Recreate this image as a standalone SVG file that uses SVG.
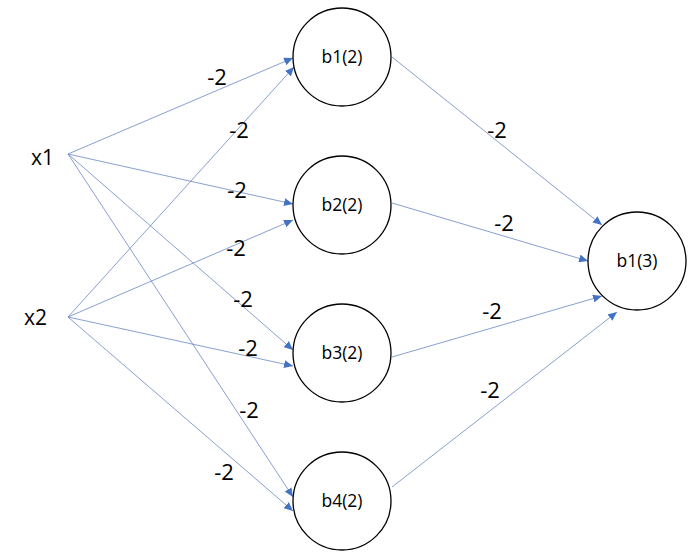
<svg xmlns="http://www.w3.org/2000/svg" width="700" height="558" viewBox="0 0 700 558">
<style>
.node{fill:#fff;stroke:#000;stroke-width:1.3}
.nl{font-family:"Open Sans","Noto Sans",sans-serif;font-size:17.5px;fill:#000;text-anchor:middle}
.il{font-family:"Open Sans","Noto Sans",sans-serif;font-size:21px;fill:#000}
.w{font-family:"Open Sans","Noto Sans",sans-serif;font-size:22px;fill:#000;text-anchor:middle}
.e{stroke:#6A88C4;stroke-width:0.8;fill:none;marker-end:url(#ah)}
</style>
<defs>
<marker id="ah" markerUnits="userSpaceOnUse" markerWidth="10" markerHeight="8" refX="9" refY="4" orient="auto">
<path d="M0,0 L9,4 L0,8 Z" fill="#4472C4"/>
</marker>
</defs>
<rect width="700" height="558" fill="#fff"/>
<g id="connectors">
<line class="e" x1="68" y1="154" x2="293" y2="58"/>
<line class="e" x1="68" y1="317" x2="294" y2="67"/>
<line class="e" x1="68" y1="154" x2="293" y2="204"/>
<line class="e" x1="68" y1="317" x2="293" y2="220"/>
<line class="e" x1="68" y1="154" x2="293" y2="350"/>
<line class="e" x1="68" y1="317" x2="293" y2="366"/>
<line class="e" x1="68" y1="154" x2="293" y2="497"/>
<line class="e" x1="68" y1="317" x2="293" y2="511"/>
<line class="e" x1="392" y1="57" x2="602" y2="225"/>
<line class="e" x1="392" y1="203" x2="588" y2="261"/>
<line class="e" x1="392" y1="357" x2="602" y2="296"/>
<line class="e" x1="392" y1="487" x2="617" y2="312"/>
</g>
<g id="weights">
<text class="w" x="217" y="85">-2</text>
<text class="w" x="239" y="138">-2</text>
<text class="w" x="237" y="198">-2</text>
<text class="w" x="236" y="256">-2</text>
<text class="w" x="243" y="307">-2</text>
<text class="w" x="248" y="356">-2</text>
<text class="w" x="249" y="418">-2</text>
<text class="w" x="224" y="480">-2</text>
<text class="w" x="497" y="138">-2</text>
<text class="w" x="504" y="231">-2</text>
<text class="w" x="492" y="319">-2</text>
<text class="w" x="490" y="398">-2</text>
</g>
<g id="x1"><text class="il" x="31" y="165">x1</text></g>
<g id="x2"><text class="il" x="24" y="325">x2</text></g>
<g id="b1_2"><circle class="node" cx="342" cy="57" r="49"/><text class="nl" x="342" y="63">b1(2)</text></g>
<g id="b2_2"><circle class="node" cx="342" cy="205" r="49"/><text class="nl" x="342" y="211">b2(2)</text></g>
<g id="b3_2"><circle class="node" cx="342" cy="353" r="49"/><text class="nl" x="342" y="359">b3(2)</text></g>
<g id="b4_2"><circle class="node" cx="342" cy="501" r="49"/><text class="nl" x="342" y="507">b4(2)</text></g>
<g id="b1_3"><circle class="node" cx="637" cy="261" r="49"/><text class="nl" x="637" y="267">b1(3)</text></g>
</svg>
